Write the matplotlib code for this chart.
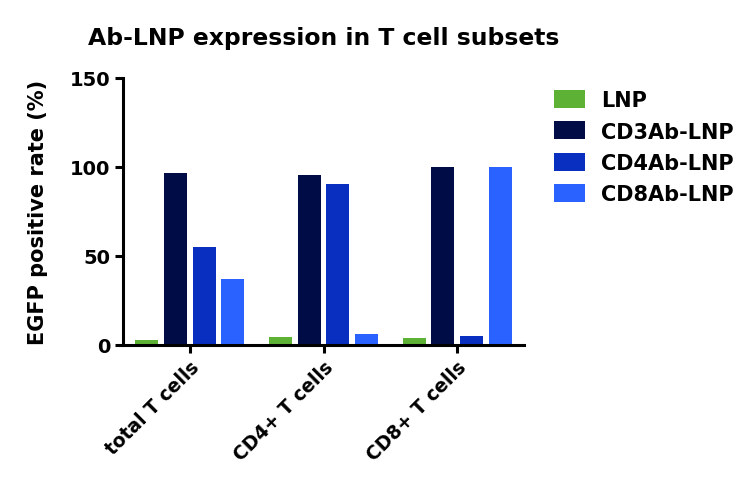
import matplotlib
matplotlib.use("Agg")
import matplotlib.pyplot as plt
import matplotlib.transforms as mtransforms
import numpy as np

categories = ["total T cells", "CD4+ T cells", "CD8+ T cells"]
series_names = ["LNP", "CD3Ab-LNP", "CD4Ab-LNP", "CD8Ab-LNP"]
lnp = [2.8, 4.5, 3.9]
cd3 = [96.8, 95.5, 100.0]
cd4 = [54.8, 90.2, 5.1]
cd8 = [37.2, 6.2, 100.0]
colors = ["#5DB135", "#000C45", "#082FC0", "#2962FF"]
yticks = [0, 50, 100, 150]

plt.rcParams['font.family'] = ['DejaVu Sans']
plt.rcParams['font.weight'] = 'bold'

fig = plt.figure(figsize=(7.56, 4.89), dpi=100)
W, H = 756, 489
ax = fig.add_axes([123 / W, (H - 346) / H, (524 - 123) / W, (346 - 79) / H])

x = np.arange(len(categories))
width = 0.172
step = 0.215
for i, (vals, name) in enumerate(zip([lnp, cd3, cd4, cd8], series_names)):
    ax.bar(x + (i - 1.5) * step, vals, width, color=colors[i], label=name, linewidth=0)

ax.set_xlim(-0.5, 2.5)
ax.set_ylim(0, 150)
ax.set_yticks(yticks)
ax.set_yticklabels([str(t) for t in yticks], fontsize=14, fontweight='bold')
ax.set_xticks(x)
ax.set_xticklabels(categories, rotation=45, ha='right', rotation_mode='anchor',
                   fontsize=13.5, fontweight='bold')
offset = mtransforms.ScaledTranslation(-8 / 100, 0, fig.dpi_scale_trans)
for lab in ax.get_xticklabels():
    lab.set_transform(lab.get_transform() + offset)
for s in ['top', 'right']:
    ax.spines[s].set_visible(False)
for s in ['left', 'bottom']:
    ax.spines[s].set_linewidth(2.2)
ax.tick_params(axis='both', width=2.2, length=6, pad=3)
ax.set_ylabel("EGFP positive rate (%)", fontsize=15, fontweight='bold', labelpad=16)
fig.text(88 / W, 1 - 38 / H, "Ab-LNP expression in T cell subsets", fontsize=16.9,
         fontweight='bold', ha='left', va='center')

leg = ax.legend(loc='upper left', bbox_to_anchor=(554 / W, 1 - 91 / H),
                bbox_transform=fig.transFigure, frameon=False, fontsize=15,
                handlelength=1.5, handleheight=0.95, handletextpad=0.75,
                labelspacing=0.54, borderaxespad=0, borderpad=0)
for t in leg.get_texts():
    t.set_fontweight('bold')

fig.savefig("out.png", dpi=100)
